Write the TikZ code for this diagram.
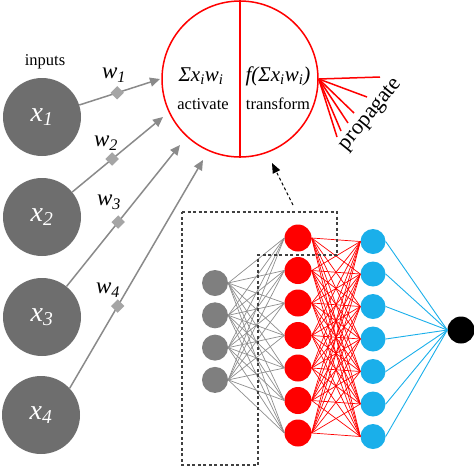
\documentclass[tikz,border=0pt]{standalone}
\usepackage{fontspec}
\setmainfont{Liberation Serif}
\usetikzlibrary{arrows.meta}
\definecolor{inpgray}{HTML}{6E6E6E}
\definecolor{netgray}{HTML}{7F7F7F}
\definecolor{edgegray}{HTML}{8E8E8E}
\definecolor{arrgray}{HTML}{8A8A8A}
\definecolor{diagray}{HTML}{A5A5A5}
\definecolor{nred}{HTML}{FF0000}
\definecolor{nblue}{HTML}{1AAFEA}
\begin{document}
\begin{tikzpicture}[x=1pt,y=-1pt,
  inp/.style={circle, fill=inpgray, minimum size=78pt, inner sep=0pt, text=white, font=\fontsize{28}{28}\selectfont\itshape},
  wt/.style={font=\fontsize{23}{23}\selectfont\itshape, inner sep=0pt},
  dia/.style={rectangle, fill=diagray, minimum size=9.5pt, inner sep=0pt, rotate=45},
  inarrow/.style={draw=arrgray, line width=1.5pt, -{Triangle[length=10pt,width=9pt]}},
  lbl/.style={font=\fontsize{16.5}{16.5}\selectfont, inner sep=0pt},
  frm/.style={font=\fontsize{21}{21}\selectfont\itshape, inner sep=0pt},
  gnode/.style={circle, fill=netgray, minimum size=26pt, inner sep=0pt},
  rnode/.style={circle, fill=nred, minimum size=27pt, inner sep=0pt},
  bnode/.style={circle, fill=nblue, minimum size=25pt, inner sep=0pt},
  knode/.style={circle, fill=black, minimum size=27pt, inner sep=0pt},
  gedge/.style={draw=edgegray, line width=0.7pt},
  redge/.style={draw=nred, line width=0.7pt},
  bedge/.style={draw=nblue, line width=0.9pt},
  propline/.style={draw=nred, line width=1.5pt},
  dashbox/.style={draw=black!75, line width=1.3pt, dash pattern=on 3pt off 2.5pt}
]
\useasboundingbox (0,0) rectangle (474,467);

% inputs
\node[lbl] (inputs) at (45,62) {inputs};
\node[inp] (x1) at (42,117) {x\textsubscript{1}};
\node[inp] (x2) at (42,217) {x\textsubscript{2}};
\node[inp] (x3) at (42,317) {x\textsubscript{3}};
\node[inp] (x4) at (41,415) {x\textsubscript{4}};

% neuron
\node[circle, draw=nred, line width=1.5pt, minimum size=156pt, inner sep=0pt] (bc) at (240,79) {};
\draw[draw=nred, line width=1.2pt] (bc.north) -- (bc.south);
\node[frm] (sum) at (201,76) {Σx\textsubscript{i}w\textsubscript{i}};
\node[lbl] (act) at (203,104) {activate};
\node[frm] (fsum) at (278,76) {f(Σx\textsubscript{i}w\textsubscript{i})};
\node[lbl] (trf) at (278,104) {transform};

% propagate
\coordinate (p1) at (380,77);
\coordinate (p2) at (367,97);
\coordinate (p3) at (354,113);
\coordinate (p4) at (348,123);
\coordinate (p5) at (341,131);
\coordinate (p6) at (337,137);
\foreach \k in {1,...,6} \draw[propline] (bc.east) -- (p\k);
\node[font=\fontsize{22}{22}\selectfont, inner sep=0pt, rotate=51] (prop) at (371,115) {propagate};

% weighted arrows
\coordinate (t1) at (160,79);
\coordinate (t2) at (163,117);
\coordinate (t3) at (180,145);
\coordinate (t4) at (203,160);
\draw[inarrow] (x1) -- node[dia, pos=0.47] (d1) {} (t1);
\draw[inarrow] (x2) -- node[dia, pos=0.44] (d2) {} (t2);
\draw[inarrow] (x3) -- node[dia, pos=0.455] (d3) {} (t3);
\draw[inarrow] (x4.43) -- node[dia, pos=0.36] (d4) {} (t4);
\node[wt] (w1) at (114,75) {w\textsubscript{1}};
\node[wt] (w2) at (106,143) {w\textsubscript{2}};
\node[wt] (w3) at (109,202) {w\textsubscript{3}};
\node[wt] (w4) at (108,290) {w\textsubscript{4}};

% network
\foreach \i in {1,...,4} \node[gnode] (g\i) at (215,{283+32.3*(\i-1)}) {};
\foreach \i in {1,...,7} \node[rnode] (r\i) at (298,{238+32.5*(\i-1)}) {};
\foreach \i in {1,...,7} \node[bnode] (b\i) at (373,{241.5+32.5*(\i-1)}) {};
\node[knode] (out) at (461,330) {};
\foreach \i in {1,...,4} \foreach \j in {1,...,7} \draw[gedge] (g\i.east) -- (r\j.west);
\foreach \i in {1,...,7} \foreach \j in {1,...,7} \draw[redge] (r\i.east) -- (b\j.west);
\foreach \i in {1,...,7} \draw[bedge] (b\i.east) -- (out.west);

% dashed outline and arrow
\draw[dashbox] (182,212) -- (337,212) -- (337,255) -- (258,255) -- (258,465) -- (182,465) -- cycle;
\coordinate (da1) at (293,205);
\coordinate (da2) at (272,163);
\draw[draw=black, line width=1pt, dash pattern=on 3pt off 2.5pt, -{Triangle[length=10pt,width=8pt]}] (da1) -- (da2);
\end{tikzpicture}
\end{document}
